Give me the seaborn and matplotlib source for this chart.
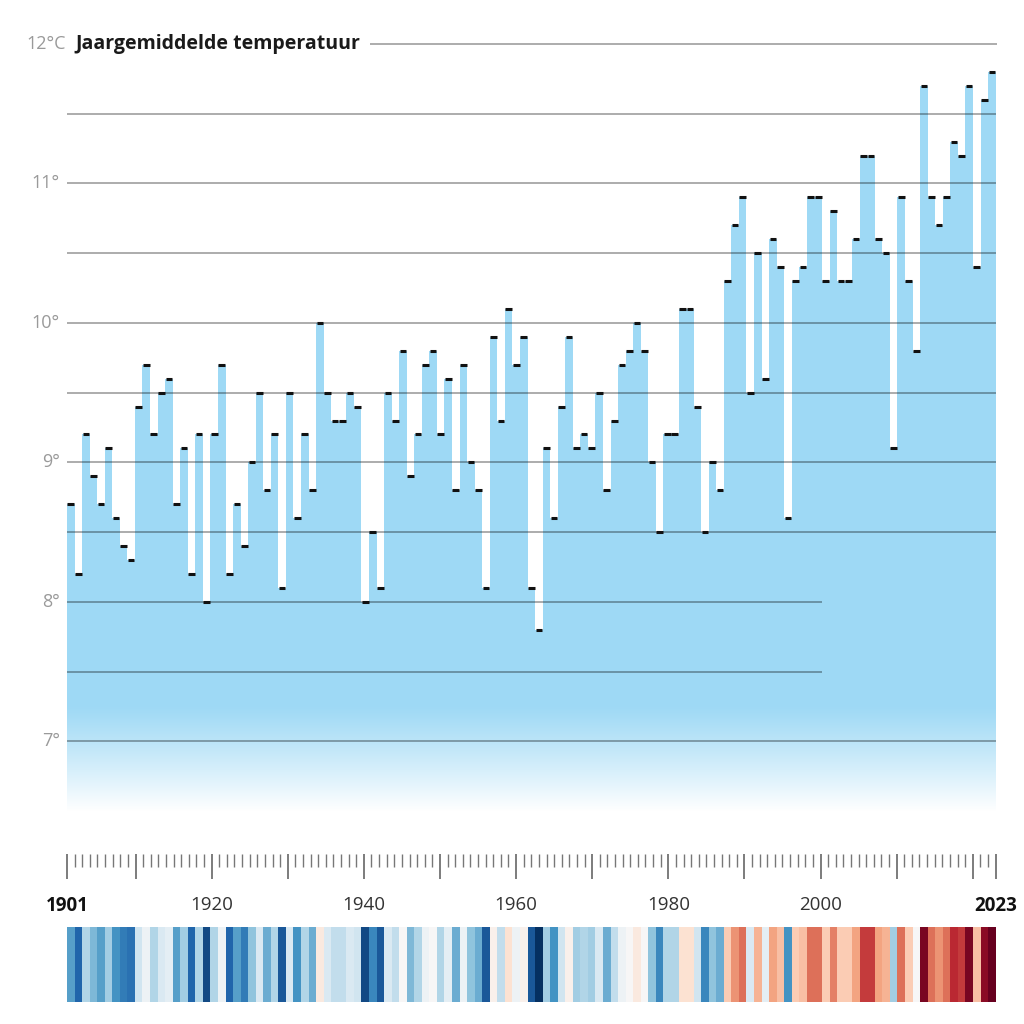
import numpy as np
import matplotlib
matplotlib.use("Agg")
import matplotlib.pyplot as plt
import seaborn as sns

# ---------------- data ----------------
years = list(range(1901, 2024))
temps = [
    8.7, 8.2, 9.2, 8.9, 8.7, 9.1, 8.6, 8.4, 8.3, 9.4,      # 1901-1910
    9.7, 9.2, 9.5, 9.6, 8.7, 9.1, 8.2, 9.2, 8.0, 9.2,      # 1911-1920
    9.7, 8.2, 8.7, 8.4, 9.0, 9.5, 8.8, 9.2, 8.1, 9.5,      # 1921-1930
    8.6, 9.2, 8.8, 10.0, 9.5, 9.3, 9.3, 9.5, 9.4, 8.0,     # 1931-1940
    8.5, 8.1, 9.5, 9.3, 9.8, 8.9, 9.2, 9.7, 9.8, 9.2,      # 1941-1950
    9.6, 8.8, 9.7, 9.0, 8.8, 8.1, 9.9, 9.3, 10.1, 9.7,     # 1951-1960
    9.9, 8.1, 7.8, 9.1, 8.6, 9.4, 9.9, 9.1, 9.2, 9.1,      # 1961-1970
    9.5, 8.8, 9.3, 9.7, 9.8, 10.0, 9.8, 9.0, 8.5, 9.2,     # 1971-1980
    9.2, 10.1, 10.1, 9.4, 8.5, 9.0, 8.8, 10.3, 10.7, 10.9, # 1981-1990
    9.5, 10.5, 9.6, 10.6, 10.4, 8.6, 10.3, 10.4, 10.9, 10.9,  # 1991-2000
    10.3, 10.8, 10.3, 10.3, 10.6, 11.2, 11.2, 10.6, 10.5, 9.1,  # 2001-2010
    10.9, 10.3, 9.8, 11.7, 10.9, 10.7, 10.9, 11.3, 11.2, 11.7,  # 2011-2020
    10.4, 11.6, 11.8,                                           # 2021-2023
]
grid_levels = [7.0, 7.5, 8.0, 8.5, 9.0, 9.5, 10.0, 10.5, 11.0, 11.5]
short_grid_levels = [7.5, 8.0]          # lines that stop at 2000
short_grid_end_year = 2000
y_label_values = [12, 11, 10, 9, 8, 7]
y_label_texts = ["12°C", "11°", "10°", "9°", "8°", "7°"]
title = "Jaargemiddelde temperatuur"
major_years = [1901, 1910, 1920, 1930, 1940, 1950, 1960, 1970, 1980, 1990, 2000, 2010, 2020, 2023]
labelled_years = {1901: "1901", 1920: "1920", 1940: "1940", 1960: "1960",
                  1980: "1980", 2000: "2000", 2023: "2023"}
bold_years = [1901, 2023]

# ---------------- style ----------------
sns.set_theme(style="white")
plt.rcParams["font.family"] = ["Open Sans", "DejaVu Sans"]

BAR = "#9ed9f5"
GRID = (0, 0, 0, 0.38)
LABEL_GRAY = "#9a9a9a"

W, H = 1024, 1024
fig = plt.figure(figsize=(W / 100, H / 100), dpi=100)
fig.patch.set_facecolor("white")

L = 67 / W
AW = 928.6 / W
ymin, ymax = 6.5, 12.0
top_px, bot_px = 44, 811
ax = fig.add_axes([L, 1 - bot_px / H, AW, (bot_px - top_px) / H])

n = len(years)
idx = np.arange(n)
sns.barplot(x=years, y=temps, color=BAR, saturation=1, width=1.0,
            linewidth=0, edgecolor="none", ax=ax, zorder=1)

# gradient fade at the bottom
fade_top = 7.26
grad = np.ones((256, 2, 4))
grad[..., 3] = np.linspace(1, 0, 256)[:, None] ** 1.1
ax.imshow(grad, extent=[-0.5, n - 0.5, ymin, fade_top], origin="lower",
          aspect="auto", zorder=2, interpolation="bilinear")

# top dashes
ax.hlines(temps, idx - 0.44, idx + 0.44, color="#111111", lw=2.2, zorder=5)

# gridlines
end_idx = years.index(short_grid_end_year) + 0.5
for lv in grid_levels:
    xmax = end_idx if lv in short_grid_levels else n - 0.5
    ax.hlines(lv, -0.5, xmax, color=GRID, lw=1.2, zorder=3)

ax.set_xlim(-0.5, n - 0.5)
ax.set_ylim(ymin, ymax)
ax.set_axis_off()

# y labels
trans = ax.get_yaxis_transform()
for v, t in zip(y_label_values, y_label_texts):
    x_off = -1 / 928.6 if t.endswith("C") else -7 / 928.6
    ax.text(x_off, v, t, transform=trans, ha="right", va="center",
            fontsize=13, color=LABEL_GRAY, clip_on=False)

# title
tt = fig.text(75 / W, 1 - top_px / H, title, ha="left", va="center",
              fontsize=14, fontweight="bold", color="#1a1a1a")
fig.canvas.draw()
bb = tt.get_window_extent(fig.canvas.get_renderer())
x_start_px = bb.x1 + 10
x_start_data = ax.transData.inverted().transform((x_start_px, 0))[0]
ax.hlines(12.0, x_start_data, n - 0.5 + 0.2, color=GRID, lw=1.2, zorder=3, clip_on=False)

# year tick axis
ax2 = fig.add_axes([L, 1 - 854 / H, AW, 0.0001])
ax2.set_xlim(years[0], years[-1])
ax2.set_xticks(major_years, labels=[labelled_years.get(y, "") for y in major_years])
ax2.set_xticks(years, minor=True)
ax2.tick_params(axis="x", which="major", direction="out", length=18, width=1.2,
                color="#666666", pad=12, labelsize=13.5, labelcolor="#333333",
                bottom=True)
ax2.tick_params(axis="x", which="minor", direction="out", length=9.5, width=1.0,
                color="#777777", bottom=True)
for lab in ax2.get_xticklabels():
    if lab.get_text() in [str(b) for b in bold_years]:
        lab.set_fontweight("bold")
        lab.set_color("#111111")
ax2.set_yticks([])
for s in ax2.spines.values():
    s.set_visible(False)
ax2.patch.set_alpha(0)

# warming stripes
ax3 = fig.add_axes([L, 1 - 1002 / H, AW, 75 / H])
sns.heatmap(np.array(temps)[None, :], cmap="RdBu_r", vmin=7.8, vmax=11.8,
            cbar=False, xticklabels=False, yticklabels=False, ax=ax3,
            linewidths=0)
ax3.set_axis_off()

fig.savefig("out.png", dpi=100, facecolor="white")
